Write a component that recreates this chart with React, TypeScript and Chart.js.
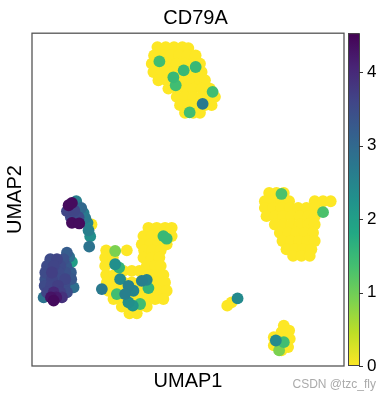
import React, { useEffect, useRef } from "react";
import { Chart, registerables } from "chart.js";

Chart.register(...registerables);

type Pt = [number, number, number]; // [UMAP1, UMAP2, CD79A expression]

const chartTitle = "CD79A";
const xLabel = "UMAP1";
const yLabel = "UMAP2";
const watermark = "CSDN @tzc_fly";
const colorbarTicks = [0, 1, 2, 3, 4];
const exprMax = 4.53;
const umap1Range = [95, 1033];
const umap2Range = [103, 1107];

const clusterTop: Pt[] = [
  [472, 1065, 0], [497, 1065, 0], [522, 1065, 0], [547, 1065, 0], [565, 1062, 0],
  [462, 1040, 0], [487, 1040, 0], [512, 1040, 0], [537, 1040, 0], [562, 1040, 0], [587, 1040, 0],
  [455, 1015, 0], [480, 1015, 0], [505, 1015, 0], [530, 1015, 0], [555, 1015, 0], [580, 1015, 0], [600, 1015, 0],
  [460, 990, 0], [485, 990, 0], [510, 990, 0], [535, 990, 0], [560, 990, 0], [585, 990, 0], [605, 990, 0],
  [475, 965, 0], [500, 965, 0], [525, 965, 0], [550, 965, 0], [575, 965, 0], [600, 965, 0], [615, 965, 0],
  [505, 940, 0], [530, 940, 0], [555, 940, 0], [580, 940, 0], [605, 940, 0], [630, 940, 0],
  [530, 915, 0], [555, 915, 0], [580, 915, 0], [605, 915, 0], [630, 915, 0], [645, 915, 0],
  [540, 890, 0], [565, 890, 0], [590, 890, 0], [615, 890, 0], [635, 890, 0],
  [555, 867, 0], [580, 867, 0], [600, 867, 0],
  [478, 1022, 1.4], [520, 974, 1.5], [527, 950, 1.4], [551, 995, 1.5], [587, 1005, 1.5],
  [638, 930, 1.4], [608, 894, 2.7], [569, 868, 1.4],
];

const clusterRight: Pt[] = [
  [808, 625, 0], [830, 625, 0], [852, 625, 0],
  [795, 600, 0], [820, 600, 0], [845, 600, 0], [868, 600, 0], [945, 600, 0], [970, 600, 0], [993, 600, 0],
  [795, 580, 0], [820, 580, 0], [845, 580, 0], [870, 580, 0], [895, 580, 0], [920, 580, 0], [945, 580, 0],
  [800, 555, 0], [825, 555, 0], [850, 555, 0], [875, 555, 0], [900, 555, 0], [925, 555, 0], [945, 555, 0],
  [825, 530, 0], [850, 530, 0], [875, 530, 0], [900, 530, 0], [925, 530, 0], [945, 530, 0],
  [840, 505, 0], [865, 505, 0], [890, 505, 0], [915, 505, 0], [940, 505, 0],
  [848, 480, 0], [873, 480, 0], [898, 480, 0], [923, 480, 0], [945, 480, 0],
  [860, 455, 0], [885, 455, 0], [910, 455, 0], [935, 455, 0],
  [880, 435, 0], [905, 435, 0], [930, 435, 0],
  [845, 622, 1.3], [970, 567, 1.3],
];

const clusterMid: Pt[] = [
  [445, 520, 0], [470, 520, 0], [495, 520, 0], [515, 520, 0],
  [430, 495, 0], [455, 495, 0], [478, 495, 0], [515, 495, 0],
  [425, 470, 0], [450, 470, 0], [475, 470, 0], [500, 470, 0],
  [318, 452, 0], [380, 452, 0], [432, 452, 0], [457, 452, 0], [482, 452, 0],
  [315, 430, 0], [338, 430, 0], [430, 430, 0], [455, 430, 0], [478, 430, 0],
  [315, 405, 0], [440, 405, 0], [465, 405, 0], [482, 405, 0],
  [370, 390, 0], [395, 390, 0], [418, 390, 0],
  [318, 378, 0], [342, 378, 0], [448, 378, 0], [470, 378, 0], [490, 378, 0],
  [320, 355, 0], [345, 355, 0], [370, 355, 0], [395, 355, 0], [420, 355, 0], [445, 355, 0], [470, 355, 0], [495, 355, 0],
  [325, 330, 0], [350, 330, 0], [375, 330, 0], [400, 330, 0], [425, 330, 0], [450, 330, 0], [475, 330, 0], [500, 330, 0],
  [340, 305, 0], [365, 305, 0], [390, 305, 0], [415, 305, 0], [440, 305, 0], [465, 305, 0], [490, 305, 0],
  [365, 282, 0], [390, 282, 0], [415, 282, 0], [440, 282, 0],
  [388, 262, 0], [410, 262, 0],
  [345, 450, 0.9], [345, 410, 2.3], [357, 400, 1.6], [305, 335, 2.7], [360, 365, 2.4],
  [385, 345, 2.6], [375, 320, 2.6], [400, 330, 2.5], [350, 320, 1.4], [385, 295, 2.3],
  [398, 285, 2.2], [420, 290, 1.4], [425, 360, 2.6], [440, 363, 2.5], [445, 338, 1.6],
  [490, 495, 1.5], [500, 487, 1.5],
];

const clusterBUpper: Pt[] = [
  [205, 588, 4.4], [215, 595, 4.4], [228, 600, 2.6], [200, 570, 3.6], [222, 572, 3.6],
  [243, 580, 3.0], [250, 565, 2.6], [212, 552, 3.5], [235, 552, 3.5], [255, 550, 2.7],
  [262, 535, 2.5], [215, 535, 4.4], [237, 533, 4.4], [274, 530, 0], [265, 512, 2.6],
  [270, 494, 2.3], [267, 463, 2.8],
];

const clusterBLower: Pt[] = [
  [150, 425, 3.5], [170, 425, 3.6], [190, 425, 3.4],
  [140, 405, 3.5], [160, 405, 3.6], [180, 405, 3.5], [198, 405, 3.3],
  [135, 385, 3.5], [155, 385, 3.7], [175, 385, 3.5], [195, 385, 3.4], [212, 385, 3.2],
  [135, 365, 3.4], [155, 365, 3.6], [175, 365, 3.5], [195, 365, 3.6], [213, 365, 3.3],
  [133, 345, 3.5], [153, 345, 3.6], [173, 345, 3.7], [193, 345, 3.5], [220, 340, 2.9],
  [140, 325, 3.6], [160, 325, 4.0], [180, 325, 3.7], [200, 325, 3.5],
  [130, 310, 2.8], [152, 310, 4.3], [168, 310, 4.2], [185, 310, 3.9],
  [160, 300, 4.4],
  [200, 445, 3.2], [207, 432, 2.9], [215, 417, 2.0],
];

const clusterSmall: Pt[] = [
  [682, 285, 0], [695, 295, 0], [713, 307, 2.4],
];

const clusterBottom: Pt[] = [
  [852, 225, 0], [868, 210, 0], [845, 205, 0], [822, 190, 0], [870, 185, 0],
  [848, 188, 0], [822, 165, 0], [865, 160, 0], [845, 150, 0],
  [828, 180, 2.4], [852, 175, 1.4], [838, 150, 0.9],
];

const VIRIDIS = [
  "#440154", "#482475", "#414487", "#355f8d", "#2a788e", "#21918c",
  "#22a884", "#44bf70", "#7ad151", "#bddf26", "#fde725",
];

function hexToRgb(h: string) {
  return [parseInt(h.slice(1, 3), 16), parseInt(h.slice(3, 5), 16), parseInt(h.slice(5, 7), 16)];
}

function viridis(t: number) {
  const c = Math.max(0, Math.min(1, t)) * (VIRIDIS.length - 1);
  const i = Math.min(VIRIDIS.length - 2, Math.floor(c));
  const f = c - i;
  const a = hexToRgb(VIRIDIS[i]);
  const b = hexToRgb(VIRIDIS[i + 1]);
  const m = a.map((v, k) => Math.round(v + (b[k] - v) * f));
  return `rgb(${m[0]},${m[1]},${m[2]})`;
}

function exprColor(v: number) {
  return viridis(1 - v / exprMax);
}

const FONT = "'Liberation Sans', Arial, Helvetica, sans-serif";

export default function App() {
  const ref = useRef<HTMLCanvasElement>(null);

  useEffect(() => {
    if (!ref.current) return;
    const all = [
      ...clusterTop, ...clusterRight, ...clusterMid, ...clusterBUpper,
      ...clusterBLower, ...clusterSmall, ...clusterBottom,
    ]
      .map((p, i) => ({ p, i }))
      .sort((a, b) => a.p[2] - b.p[2] || a.i - b.i)
      .map(({ p }) => ({ x: p[0], y: p[1], v: p[2] }));

    const decor = {
      id: "decor",
      afterDraw(chart: any) {
        const { ctx, chartArea } = chart;
        const cb = chart.scales.cb;
        ctx.save();
        // frame
        ctx.strokeStyle = "#555";
        ctx.lineWidth = 1.3;
        ctx.strokeRect(chartArea.left, chartArea.top, chartArea.right - chartArea.left, chartArea.bottom - chartArea.top);
        // colorbar
        const x0 = chartArea.right + 4;
        const w = 11;
        const top = cb.getPixelForValue(exprMax);
        const bot = cb.getPixelForValue(0);
        const g = ctx.createLinearGradient(0, bot, 0, top);
        for (let k = 0; k <= 20; k++) {
          g.addColorStop(k / 20, exprColor((k / 20) * exprMax));
        }
        ctx.fillStyle = g;
        ctx.fillRect(x0, top, w, bot - top);
        ctx.strokeStyle = "#444";
        ctx.lineWidth = 1;
        ctx.strokeRect(x0 + 0.5, top + 0.5, w, bot - top - 1);
        ctx.strokeStyle = "#333";
        colorbarTicks.forEach((t) => {
          const y = Math.round(cb.getPixelForValue(t)) + 0.5;
          ctx.beginPath();
          ctx.moveTo(x0 + w, y);
          ctx.lineTo(x0 + w + 4, y);
          ctx.stroke();
        });
        // watermark
        ctx.fillStyle = "#aaa";
        ctx.font = `12px ${FONT}`;
        ctx.textAlign = "right";
        ctx.textBaseline = "middle";
        ctx.fillText(watermark, 376, 385);
        ctx.restore();
      },
    };

    const chart = new Chart(ref.current, {
      type: "scatter",
      data: {
        datasets: [
          {
            data: all,
            backgroundColor: all.map((d) => exprColor(d.v)),
            borderWidth: 0,
            pointRadius: 5.9,
            pointHoverRadius: 5.9,
          },
        ],
      },
      options: {
        responsive: false,
        animation: false,
        devicePixelRatio: 1,
        layout: { padding: 0 },
        plugins: {
          legend: { display: false },
          tooltip: { enabled: false },
          title: {
            display: true,
            text: chartTitle,
            color: "#000",
            font: { family: FONT, size: 20, weight: "normal" },
            padding: { top: 4, bottom: 3 },
          },
        },
        scales: {
          x: {
            type: "linear",
            min: umap1Range[0],
            max: umap1Range[1],
            ticks: { display: false },
            grid: { display: false, drawTicks: false },
            border: { display: false },
            title: {
              display: true,
              text: xLabel,
              color: "#000",
              font: { family: FONT, size: 20 },
              padding: { top: 0, bottom: 7 },
            },
            afterFit: (s: any) => {
              s.height = 34;
            },
          },
          y: {
            type: "linear",
            min: umap2Range[0],
            max: umap2Range[1],
            ticks: { display: false },
            grid: { display: false, drawTicks: false },
            border: { display: false },
            title: {
              display: true,
              text: yLabel,
              color: "#000",
              font: { family: FONT, size: 20 },
              padding: { top: 3, bottom: 0 },
            },
            afterFit: (s: any) => {
              s.width = 32;
            },
          },
          cb: {
            type: "linear",
            position: "right",
            min: 0,
            max: exprMax,
            grid: { display: false, drawTicks: false },
            border: { display: false },
            ticks: {
              color: "#000",
              padding: 23,
              font: { family: FONT, size: 17 },
            },
            afterBuildTicks: (s: any) => {
              s.ticks = colorbarTicks.map((v) => ({ value: v }));
            },
            afterFit: (s: any) => {
              s.width = 47;
            },
          },
        },
      } as any,
      plugins: [decor],
    });
    return () => chart.destroy();
  }, []);

  return (
    <div style={{ position: "fixed", left: 0, top: 0, width: 391, height: 400, background: "#fff" }}>
      <canvas ref={ref} width={391} height={400} style={{ width: 391, height: 400 }} />
    </div>
  );
}
